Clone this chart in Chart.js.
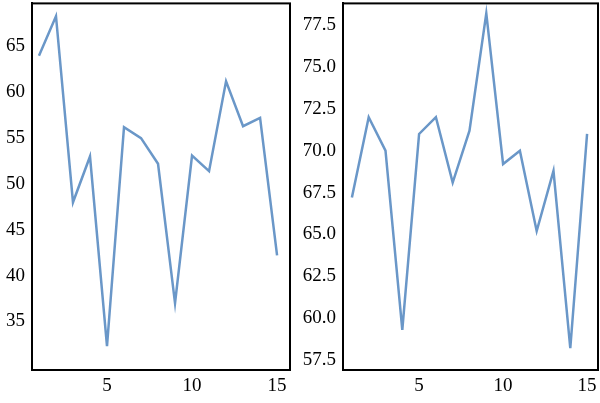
<!DOCTYPE html>
<html><head>
<script src="https://cdn.jsdelivr.net/npm/chart.js@4"></script>
<style>
body{margin:0;background:#fff;width:600px;height:403px;position:relative;overflow:hidden}
.box{position:absolute;top:-10px;height:413px}
</style></head><body>
<div class="box" style="left:0;width:292px"><canvas id="c1"></canvas></div>
<div class="box" style="left:293px;width:307px"><canvas id="c2"></canvas></div>
<script>
const xs = [1,2,3,4,5,6,7,8,9,10,11,12,13,14,15]
const leftVals = [64, 68.3, 48, 53, 32.3, 56.2, 55, 52.2, 37, 53.1, 51.4, 61.2, 56.3, 57.2, 42.2]
const rightVals = [67.2, 72, 70, 59.3, 71, 72, 68.1, 71.2, 78.2, 69.2, 70, 65.2, 68.8, 58.2, 71]
const leftTicks = [35, 40, 45, 50, 55, 60, 65]
const rightTicks = [57.5, 60, 62.5, 65, 67.5, 70, 72.5, 75, 77.5]
const xTicks = [5, 10, 15]

const font = {family: 'Liberation Serif', size: 19}

function make(id, vals, ymin, ymax, yt, yw, xmin, xmax, dec) {
  new Chart(document.getElementById(id), {
    type: 'line',
    data: {datasets: [{data: xs.map((x, i) => ({x: x, y: vals[i]})),
      borderColor: '#6a97c8', borderWidth: 2.5, pointRadius: 0, tension: 0}]},
    options: {
      responsive: false, animation: false,
      layout: {padding: {top: 0, right: 2}},
      plugins: {legend: {display: false}, tooltip: {enabled: false}},
      scales: {
        x: {type: 'linear', min: xmin, max: xmax,
          afterBuildTicks: a => { a.ticks = xTicks.map(v => ({value: v})) },
          grid: {display: false, tickLength: 5, tickColor: '#000'},
          border: {color: '#000', width: 2},
          ticks: {color: '#000', font: font, padding: 0, maxRotation: 0},
          afterFit: a => { a.height = 33 }},
        y: {min: ymin, max: ymax,
          afterBuildTicks: a => { a.ticks = yt.map(v => ({value: v})) },
          grid: {display: false, tickLength: 5, tickColor: '#000'},
          border: {color: '#000', width: 2},
          ticks: {color: '#000', font: font, padding: 2, callback: v => v.toFixed(dec)},
          afterFit: a => { a.width = yw }}
      }
    },
    plugins: [{id: 'frame', afterDraw(c) {
      const a = c.chartArea, g = c.ctx
      g.save(); g.strokeStyle = '#000'; g.lineWidth = 2
      g.strokeRect(a.left, a.top, a.right - a.left, a.bottom - a.top); g.restore()
    }}]
  })
}
document.getElementById('c1').width = 292; document.getElementById('c1').height = 413
document.getElementById('c2').width = 307; document.getElementById('c2').height = 413
make('c1', leftVals, 29.7, 69.7, leftTicks, 32, 0.59, 15.76, 0)
make('c2', rightVals, 56.9, 78.8, rightTicks, 50, 0.47, 15.65, 1)
</script>
</body></html>
